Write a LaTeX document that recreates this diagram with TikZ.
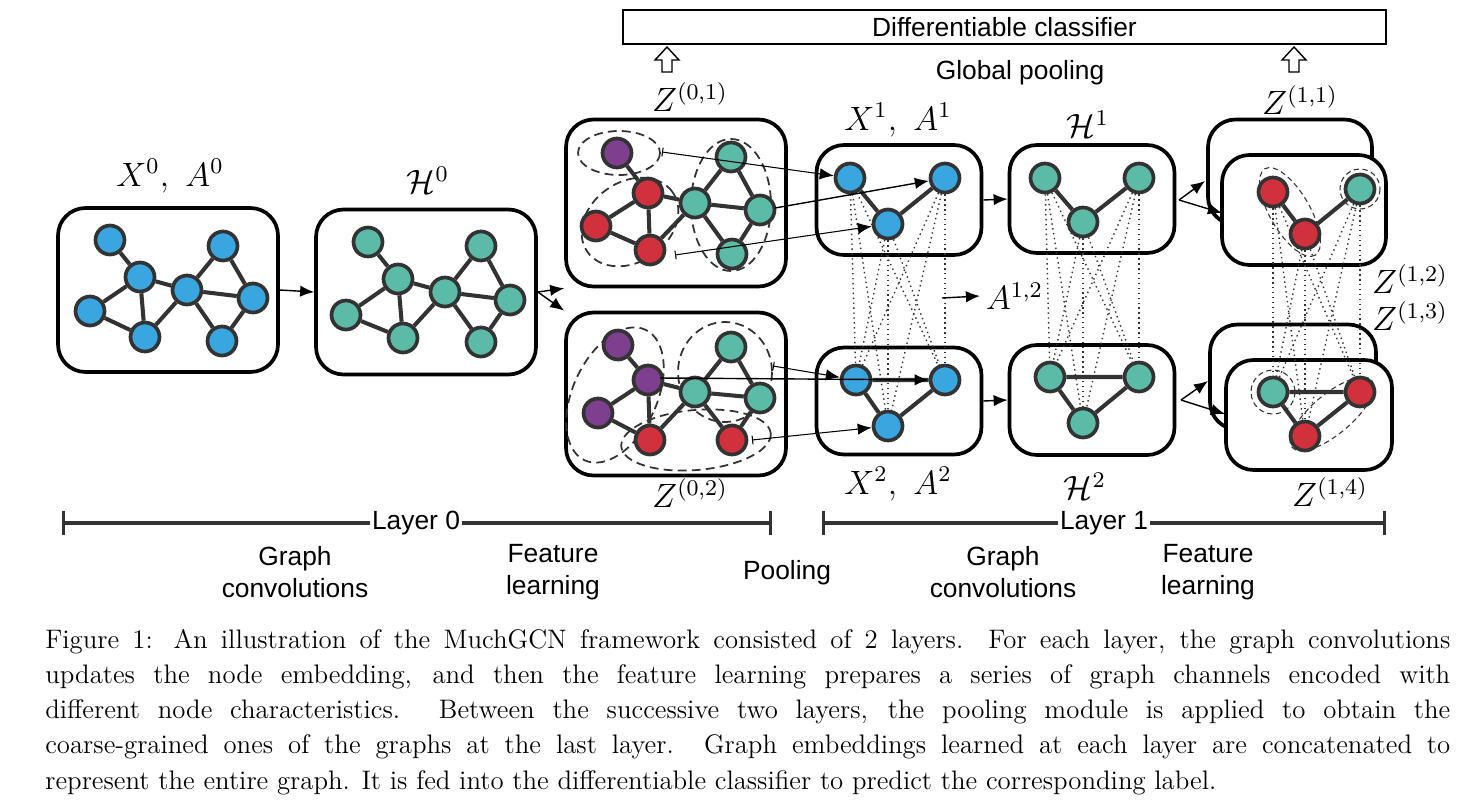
\documentclass[tikz,border=0pt]{standalone}
\usepackage{fontspec}
\newfontfamily\sansf{Liberation Sans}
\usetikzlibrary{arrows.meta}
\definecolor{cb}{HTML}{3AA6E0}
\definecolor{ct}{HTML}{5BBBA6}
\definecolor{cr}{HTML}{D0313D}
\definecolor{cp}{HTML}{7E3F8F}
\definecolor{eg}{HTML}{333333}
\newcommand{\ml}[1]{\scalebox{1.6}{$#1$}}
\begin{document}
\begin{tikzpicture}[x=0.02cm,y=-0.02cm,
  v/.style={circle,draw=eg,line width=2.1pt,minimum size=0.58cm,inner sep=0pt},
  bn/.style={v,fill=cb}, tn/.style={v,fill=ct}, rn/.style={v,fill=cr}, pn/.style={v,fill=cp},
  ed/.style={draw=eg,line width=2.3pt},
  box/.style={draw=black,line width=2.1pt,rounded corners=0.55cm,fill=white},
  grp/.style={draw=eg,dashed,line width=1pt,dash pattern=on 5pt off 3pt},
  dt/.style={draw=eg,dotted,line width=0.8pt},
  ar/.style={-{Latex[length=8pt,width=6.5pt]},line width=0.8pt},
  bar/.style={{Bar[width=5pt]}-{Latex[length=8pt,width=6.5pt]},line width=0.6pt},
  lab/.style={font=\fontsize{12}{14}\selectfont},
  sl/.style={font=\sansf\fontsize{15}{18}\selectfont,align=center}]
\useasboundingbox (0,0) rectangle (1468,802);
% top
\node[draw,line width=0.8pt,minimum width=15.26cm,minimum height=0.68cm,font=\sansf\fontsize{15}{17}\selectfont] (cls) at (1004.5,27) {Differentiable classifier};
\foreach \cx in {667,1294}{
 \draw[line width=0.8pt,fill=white] (\cx-5,72) -- (\cx-5,60) -- (\cx-12,60) -- (\cx,47) -- (\cx+12,60) -- (\cx+5,60) -- (\cx+5,72) -- cycle;}
\node[sl] (gp) at (1020,73) {Global pooling};
% layer 0 graph
\node[box,minimum width=4.4cm,minimum height=3.28cm] (b0) at (168,290) {};
\node[bn] (a1) at (110,240) {};\node[bn] (a2) at (140,277) {};\node[bn] (a3) at (90,311) {};\node[bn] (a4) at (145,337) {};
\node[bn] (a5) at (187,290) {};\node[bn] (a6) at (223,246) {};\node[bn] (a7) at (253,298) {};\node[bn] (a8) at (222,341) {};
\node[box,minimum width=4.4cm,minimum height=3.3cm] (bh) at (426,292) {};
\node[tn] (h1) at (368,242) {};\node[tn] (h2) at (398,279) {};\node[tn] (h3) at (346,315) {};\node[tn] (h4) at (403,338) {};
\node[tn] (h5) at (445,292) {};\node[tn] (h6) at (481,246) {};\node[tn] (h7) at (510,300) {};\node[tn] (h8) at (481,342) {};
\foreach \p in {a,h}{
 \foreach \u/\w in {1/2,2/3,2/4,3/4,2/5,4/5,5/6,5/7,5/8,6/7,7/8}
  \draw[ed] (\p\u) -- (\p\w);}
% Z01
\node[box,minimum width=4.4cm,minimum height=3.34cm] (bz1) at (676,203) {};
\draw[grp] (619,153) ellipse [x radius=41,y radius=22];
\draw[grp,rotate around={35:(630,222)}] (630,222) ellipse [x radius=52,y radius=40];
\draw[grp] (731,205) ellipse [x radius=40,y radius=66];
\node[pn] (p1) at (617,153) {};\node[rn] (p2) at (648,193) {};\node[rn] (p3) at (596,226) {};\node[rn] (p4) at (650,250) {};
\node[tn] (p5) at (695,203) {};\node[tn] (p6) at (731,157) {};\node[tn] (p7) at (760,210) {};\node[tn] (p8) at (732,254) {};
% Z02
\node[box,minimum width=4.4cm,minimum height=3.26cm] (bz2) at (676,394) {};
\draw[grp,rotate around={-25:(615,395)}] (615,395) ellipse [x radius=42,y radius=72];
\draw[grp] (725,372) ellipse [x radius=47,y radius=50];
\draw[grp,rotate around={5:(696,440)}] (696,440) ellipse [x radius=75,y radius=30];
\node[pn] (q1) at (618,345) {};\node[pn] (q2) at (648,380) {};\node[pn] (q3) at (598,413) {};\node[rn] (q4) at (650,440) {};
\node[tn] (q5) at (695,392) {};\node[tn] (q6) at (731,347) {};\node[tn] (q7) at (760,398) {};\node[rn] (q8) at (732,440) {};
\foreach \p in {p,q}{
 \foreach \u/\w in {1/2,2/3,2/4,3/4,2/5,4/5,5/6,5/7,5/8,6/7,7/8}
  \draw[ed] (\p\u) -- (\p\w);}
% X1, X2
\node[box,minimum width=3.3cm,minimum height=2.2cm] (bx1) at (899,200) {};
\node[bn] (x1) at (850,178) {};\node[bn] (x2) at (888,224) {};\node[bn] (x3) at (945,178) {};
\node[box,minimum width=3.3cm,minimum height=2.14cm] (bx2) at (899,401) {};
\node[bn] (y1) at (856,380) {};\node[bn] (y2) at (888,426) {};\node[bn] (y3) at (945,380) {};
\draw[ed] (x1)--(x2) (x2)--(x3) (y1)--(y2) (y2)--(y3) (y1)--(y3);
% H1,H2
\node[box,minimum width=3.3cm,minimum height=2.16cm] (bh1) at (1092,199) {};
\node[tn] (g1) at (1045,178) {};\node[tn] (g2) at (1083,222) {};\node[tn] (g3) at (1139,178) {};
\node[box,minimum width=3.3cm,minimum height=2.2cm] (bh2) at (1092,400) {};
\node[tn] (k1) at (1050,377) {};\node[tn] (k2) at (1083,423) {};\node[tn] (k3) at (1139,377) {};
\draw[ed] (g1)--(g2) (g2)--(g3) (k1)--(k2) (k2)--(k3) (k1)--(k3);
% Z11.. boxes
\node[box,minimum width=3.28cm,minimum height=2.1cm] (bz11b) at (1290,172) {};
\node[box,minimum width=3.28cm,minimum height=2.2cm] (bz11) at (1304,210) {};
\draw[grp,dash pattern=on 3pt off 2pt,line width=0.6pt,rotate around={-60:(1290,212)}] (1290,212) ellipse [x radius=50,y radius=20];
\draw[grp,dash pattern=on 3pt off 2pt,line width=0.6pt] (1360,189) circle [radius=20];
\node[rn] (m1) at (1273,192) {};\node[rn] (m2) at (1305,234) {};\node[tn] (m3) at (1360,189) {};
\node[box,minimum width=3.32cm,minimum height=2.1cm] (bz13b) at (1293,377) {};
\node[box,minimum width=3.32cm,minimum height=2.2cm] (bz14) at (1309,415) {};
\draw[grp,dash pattern=on 3pt off 2pt,line width=0.6pt] (1273,392) circle [radius=22];
\draw[grp,dash pattern=on 3pt off 2pt,line width=0.6pt,rotate around={40:(1332,414)}] (1332,414) ellipse [x radius=52,y radius=20];
\node[tn] (n1) at (1273,392) {};\node[rn] (n3) at (1360,392) {};\node[rn] (n2) at (1305,436) {};
\draw[ed] (m1)--(m2) (m2)--(m3) (n1)--(n3) (n1)--(n2) (n2)--(n3);
% dotted connections
\foreach \s/\t in {x/y,g/k,m/n}{
 \foreach \i in {1,2,3}{\foreach \j in {1,2,3}{\draw[dt] (\s\i) -- (\t\j);}}}
% arrows
\draw[ar] (b0.east) -- (bh.west);
\draw[ar] (bh.east) -- (bz1.south west);
\draw[ar] (bh.east) -- (bz2.north west);
\draw[ar] (bx1.east) -- (bh1.west);
\draw[ar] (bx2.east) -- (bh2.west);
\coordinate (s1) at (1179,200);\coordinate (s2) at (1181,400);
\coordinate (e1) at (1205,181);\coordinate (e2) at (1222,213);
\coordinate (e3) at (1208,381);\coordinate (e4) at (1225,414);
\draw[ar] (s1) -- (e1);\draw[ar] (s1) -- (e2);\draw[ar] (s2) -- (e3);\draw[ar] (s2) -- (e4);
\coordinate (c1) at (662,152);\coordinate (c2) at (775,208);\coordinate (c3) at (675,255);
\coordinate (c4) at (660,378);\coordinate (c5) at (773,366);\coordinate (c6) at (752,440);
\draw[bar] (c1) -- (x1);\draw[ar] (c2) -- (x3);\draw[bar] (c3) -- (x2);
\draw[ar] (c4) -- (y3);\draw[bar] (c5) -- (y1);\draw[bar] (c6) -- (y2);
\node[lab,anchor=west] (a12) at (980,296) {\ml{A^{1,2}}};
\coordinate (a12s) at (942,298);
\draw[ar] (a12s) -- (a12.west);
% labels
\node[lab] (l1) at (170,176) {\ml{X^0,\ A^0}};
\node[lab] (l2) at (428,180) {\ml{\mathcal{H}^0}};
\node[lab] (l3) at (690,97) {\ml{Z^{(0,1)}}};
\node[lab] (l4) at (898,120) {\ml{X^1,\ A^1}};
\node[lab] (l5) at (1088,124) {\ml{\mathcal{H}^1}};
\node[lab] (l6) at (1300,100) {\ml{Z^{(1,1)}}};
\node[lab] (l7) at (1410,279) {\ml{Z^{(1,2)}}};
\node[lab] (l8) at (1410,316) {\ml{Z^{(1,3)}}};
\node[lab] (l9) at (898,484) {\ml{X^2,\ A^2}};
\node[lab] (l10) at (1085,486) {\ml{\mathcal{H}^2}};
\node[lab] (l11) at (690,493) {\ml{Z^{(0,2)}}};
\node[lab] (l12) at (1330,492) {\ml{Z^{(1,4)}}};
% scale bars
\coordinate (L0a) at (62,523);\coordinate (L0b) at (772,523);
\coordinate (L1a) at (822,523);\coordinate (L1b) at (1386,523);
\draw[line width=1.8pt,draw=eg,{Bar[width=14pt]}-{Bar[width=14pt]}] (L0a) -- (L0b);
\draw[line width=1.8pt,draw=eg,{Bar[width=14pt]}-{Bar[width=14pt]}] (L1a) -- (L1b);
\node[sl,fill=white,inner sep=1pt] (ly0) at (416,523) {Layer 0};
\node[sl,fill=white,inner sep=1pt] (ly1) at (1104,523) {Layer 1};
\node[sl] (t1) at (295,572) {Graph\\convolutions};
\node[sl] (t2) at (553,572) {Feature\\learning};
\node[sl] (t3) at (787,573) {Pooling};
\node[sl] (t4) at (1003,572) {Graph\\convolutions};
\node[sl] (t5) at (1208,572) {Feature\\learning};
% caption
\node[anchor=north west,inner sep=0pt] (cap) at (45,624) {\scalebox{1.27}{\fontsize{12}{15.7}\selectfont\begin{tabular}{@{}l@{}}%
\makebox[22.13cm][s]{Figure 1: An illustration of the MuchGCN framework consisted of 2 layers. For each layer, the graph convolutions}\\
\makebox[22.13cm][s]{updates the node embedding, and then the feature learning prepares a series of graph channels encoded with}\\
\makebox[22.13cm][s]{different node characteristics. Between the successive two layers, the pooling module is applied to obtain the}\\
\makebox[22.13cm][s]{coarse-grained ones of the graphs at the last layer. Graph embeddings learned at each layer are concatenated to}\\
represent the entire graph. It is fed into the differentiable classifier to predict the corresponding label.
\end{tabular}}};
\end{tikzpicture}
\end{document}
